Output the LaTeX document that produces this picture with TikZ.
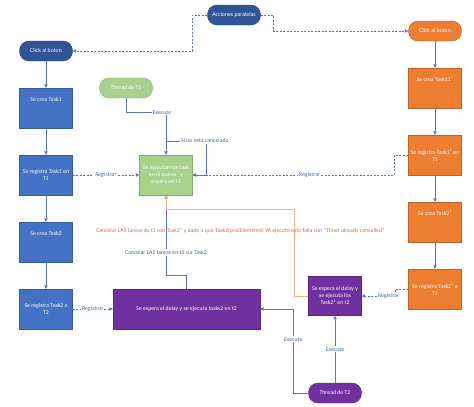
\documentclass[tikz,border=0pt]{standalone}
\usepackage{fontspec}
\setmainfont{Carlito}
\usetikzlibrary{positioning, arrows.meta, calc}

\definecolor{azul}{RGB}{68,114,196}
\definecolor{azuloscuro}{RGB}{47,85,151}
\definecolor{naranja}{RGB}{237,125,49}
\definecolor{verde}{RGB}{169,209,142}
\definecolor{morado}{RGB}{112,48,160}
\definecolor{linea}{RGB}{84,118,196}
\definecolor{lineanaranja}{RGB}{244,177,131}

\tikzset{
  caja/.style={rectangle, draw=#1!80!black, fill=#1, text=white, align=center,
    minimum width=53pt, minimum height=40pt, inner sep=1pt, font=\fontsize{5.8}{7}\selectfont},
  boton/.style={caja=#1, rounded corners=9.5pt, minimum height=20pt},
  arriba/.style={text height=4pt, text depth=18pt},
  flecha/.style={draw=linea, line width=0.6pt, -{Triangle[length=3.5pt, width=3.5pt]}},
  punteada/.style={flecha, dash pattern=on 2pt off 1.5pt},
  etiqueta/.style={fill=white, inner sep=1pt, text=linea!85!black, font=\fontsize{5.8}{6}\selectfont},
  registrar/.style={etiqueta, font=\fontsize{5.8}{6}\selectfont\itshape}
}

\begin{document}
\begin{tikzpicture}[x=1pt, y=-1pt, node distance=67pt, on grid]
  \useasboundingbox (0,0) rectangle (474,407);

  \node[boton=azuloscuro] (acciones) at (234,15) {Acciones paralelas};

  % hilo principal
  \node[boton=azuloscuro] (clickA) at (46,51) {Click al boton};
  \node[caja=azul, arriba] (task1) [below=57pt of clickA] {Se crea Task1};
  \node[caja=azul] (reg1) [below=of task1] {Se registra Task1 en\\T1};
  \node[caja=azul, arriba] (task2) [below=of reg1] {Se crea Task2};
  \node[caja=azul] (reg2) [below=of task2] {Se registra Task2 a\\T2};

  % accion paralela
  \node[boton=naranja] (clickB) at (435,31) {Click al boton};
  \node[caja=naranja, arriba] (task11) [below=57pt of clickB] {Se crea Task11\textsuperscript{1}};
  \node[caja=naranja] (reg11) [below=of task11] {Se registra Task1\textsuperscript{1} en\\T1};
  \node[caja=naranja, arriba] (task21) [below=of reg11] {Se crea Task2\textsuperscript{1}};
  \node[caja=naranja] (reg21) [below=of task21] {Se registra Task2\textsuperscript{1} a\\T2};

  \node[boton=verde] (hiloT1) at (126,88) {Thread de T1};
  \node[caja=verde] (ejecuta) [right=120pt of reg1] {Se ejecutan los task\\en el queue \ \ y\\espera en t1};
  \node[caja=morado, minimum width=147pt] (esperaT2) [right=140.5pt of reg2] {Se espera el delay y se ejecuta tasks2 en t2};
  \node[caja=morado, minimum height=39pt] (espera21) at (335,296) {Se espera el delay y\\se ejecuta los\\Task2\textsuperscript{1} en t2};
  \node[boton=morado] (hiloT2) at (335,393) {Thread de T2};

  \draw[punteada] (acciones.west) -- ++(-15,0) |- (clickA.east);
  \draw[punteada] (acciones.east) -- ++(13,0) |- (clickB.west);

  \draw[flecha] (clickA) -- (task1);
  \draw[flecha] (task1) -- (reg1);
  \draw[flecha] (reg1) -- (task2);
  \draw[flecha] (task2) -- (reg2);
  \draw[flecha] (clickB) -- (task11);
  \draw[flecha] (task11) -- (reg11);
  \draw[flecha] (reg11) -- (task21);
  \draw[flecha] (task21) -- (reg21);

  \draw[flecha] (hiloT1.south) -- ++(0,14) -| node[etiqueta, pos=0.45] {Execute} (ejecuta.north);
  \draw[flecha] ($(ejecuta.north)+(0,-14)$) -| node[etiqueta, pos=0.17, anchor=west] {Si no esta cancelado}
    ($(ejecuta.east)+(14,0)$) -- (ejecuta.east);

  \draw[punteada] (reg1) -- node[registrar] {Registrar} (ejecuta);
  \draw[punteada] (reg2) -- node[registrar] {Registrar} (esperaT2);
  \draw[punteada] (reg11.west) -- ++(-14,0) |- node[etiqueta, pos=0.71] {Registrar} (ejecuta.east);
  \draw[punteada] (reg21.west) -- ++(-13,0) |- node[etiqueta, pos=0.6] {Registrar} (espera21.east);

  \draw[flecha] (hiloT2) -- node[etiqueta] {Execute} (espera21);
  \draw[flecha] (hiloT2.west) -- ++(-15,0) |- node[etiqueta, pos=0.32] {Execute} (esperaT2.east);

  % cancelaciones
  \draw[flecha] (esperaT2.north) -- ++(0,-14) -| node[etiqueta, pos=0.64] {Cancelar LAS tareas en t1 via Task2} (ejecuta.south);
  \draw[flecha, draw=lineanaranja] (espera21.west) -- ++(-14,0) -- ++(0,-87) -|
    node[pos=0.21, below=15pt, text=naranja!90!black, font=\fontsize{5.8}{6}\selectfont]
    {Cancelar LAS tareas de t1 con Task2\textsuperscript{1} y dado a que Task2(posiblemente) YA ejecuto esto falla con “Timer already cancelled”}
    (ejecuta.south);
\end{tikzpicture}
\end{document}
